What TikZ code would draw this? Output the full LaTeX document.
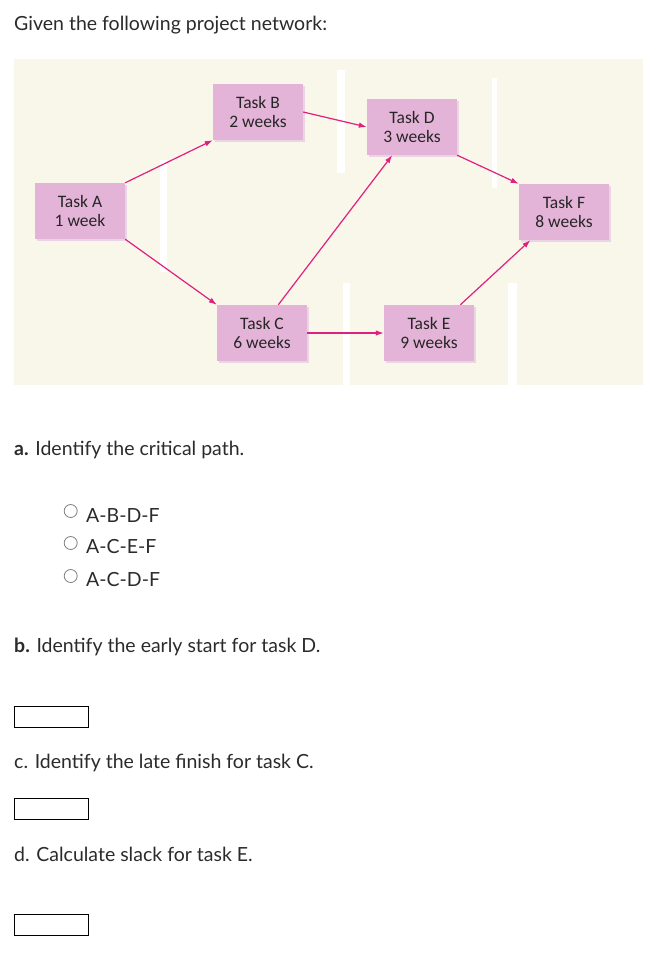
\documentclass[tikz,border=0pt]{standalone}
\usepackage{fontspec}
\setmainfont{Lato}
\newfontfamily\boxfont{Carlito}
\usepackage{tikz}
\usetikzlibrary{arrows.meta,shadows}
\definecolor{panel}{HTML}{F9F6EA}
\definecolor{taskpink}{HTML}{E4B4D8}
\definecolor{linkpink}{HTML}{E0207F}
\definecolor{qgray}{HTML}{2B2B2B}
\tikzset{task/.style={rectangle, fill=taskpink, minimum width=90pt, minimum height=56pt, inner sep=0pt, align=center, text=black!85, font=\boxfont\fontsize{17.5}{19}\selectfont, drop shadow={shadow xshift=2pt, shadow yshift=-2pt, fill=violet!25, opacity=0.6}}}
\tikzset{link/.style={-{Latex[length=8pt,width=5.5pt]}, draw=linkpink, line width=1.2pt}}
\tikzset{qtext/.style={anchor=base west, inner sep=0pt, text=qgray, font=\fontsize{19.5}{22}\selectfont}}
\tikzset{radio/.style={circle, draw=gray, line width=0.8pt, minimum size=13pt, inner sep=0pt}}
\tikzset{answer/.style={rectangle, draw=black, line width=1pt, anchor=north west, minimum width=74pt, minimum height=21pt, inner sep=0pt}}

\begin{document}
\begin{tikzpicture}[x=1pt,y=-1pt]
	\useasboundingbox (0,0) rectangle (670,962);
	% network panel
	\fill[panel] (14,59) rectangle (643,385);
	\fill[white] (160,160) rectangle (167,272);
	\fill[white] (337,70) rectangle (345,173);
	\fill[white] (492,78) rectangle (497,188);
	\fill[white] (343,283) rectangle (350,385);
	\fill[white] (508,283) rectangle (517,385);
	\node[task] (taskA) at (80,211) {Task A\\1 week};
	\node[task] (taskB) at (258,112) {Task B\\2 weeks};
	\node[task] (taskC) at (262,333) {Task C\\6 weeks};
	\node[task] (taskD) at (412,127) {Task D\\3 weeks};
	\node[task] (taskE) at (429,333) {Task E\\9 weeks};
	\node[task] (taskF) at (564,212) {Task F\\8 weeks};
	\draw[link] (taskA.north east) -- (taskB.south west);
	\draw[link] (taskA.south east) -- (taskC.north west);
	\draw[link] (taskB.east) -- (taskD.west);
	\draw[link] (taskC.60) -- (taskD.-125);
	\draw[link] (taskC.east) -- (taskE.west);
	\draw[link] (taskD.south east) -- (taskF.north west);
	\draw[link] (taskE.42) -- (taskF.-140);
	% questions
	\node[qtext] (title) at (14,30) {Given the following project network:};
	\node[qtext] (qa) at (14,455) {\textbf{a.} Identify the critical path.};
	\node[radio] (optABDF) at (70.7,511) {};
	\node[radio] (optACEF) at (70.7,543) {};
	\node[radio] (optACDF) at (70.7,576) {};
	\node[qtext] (lblABDF) at (86,522) {A-B-D-F};
	\node[qtext] (lblACEF) at (86,553) {A-C-E-F};
	\node[qtext] (lblACDF) at (86,586) {A-C-D-F};
	\node[qtext] (qb) at (14,652) {\textbf{b.} Identify the early start for task D.};
	\node[answer] (ansb) at (14,706) {};
	\node[qtext] (qc) at (14,768) {c. Identify the late finish for task C.};
	\node[answer] (ansc) at (14,798) {};
	\node[qtext] (qd) at (14,861) {d. Calculate slack for task E.};
	\node[answer] (ansd) at (14,914) {};
\end{tikzpicture}
\end{document}
